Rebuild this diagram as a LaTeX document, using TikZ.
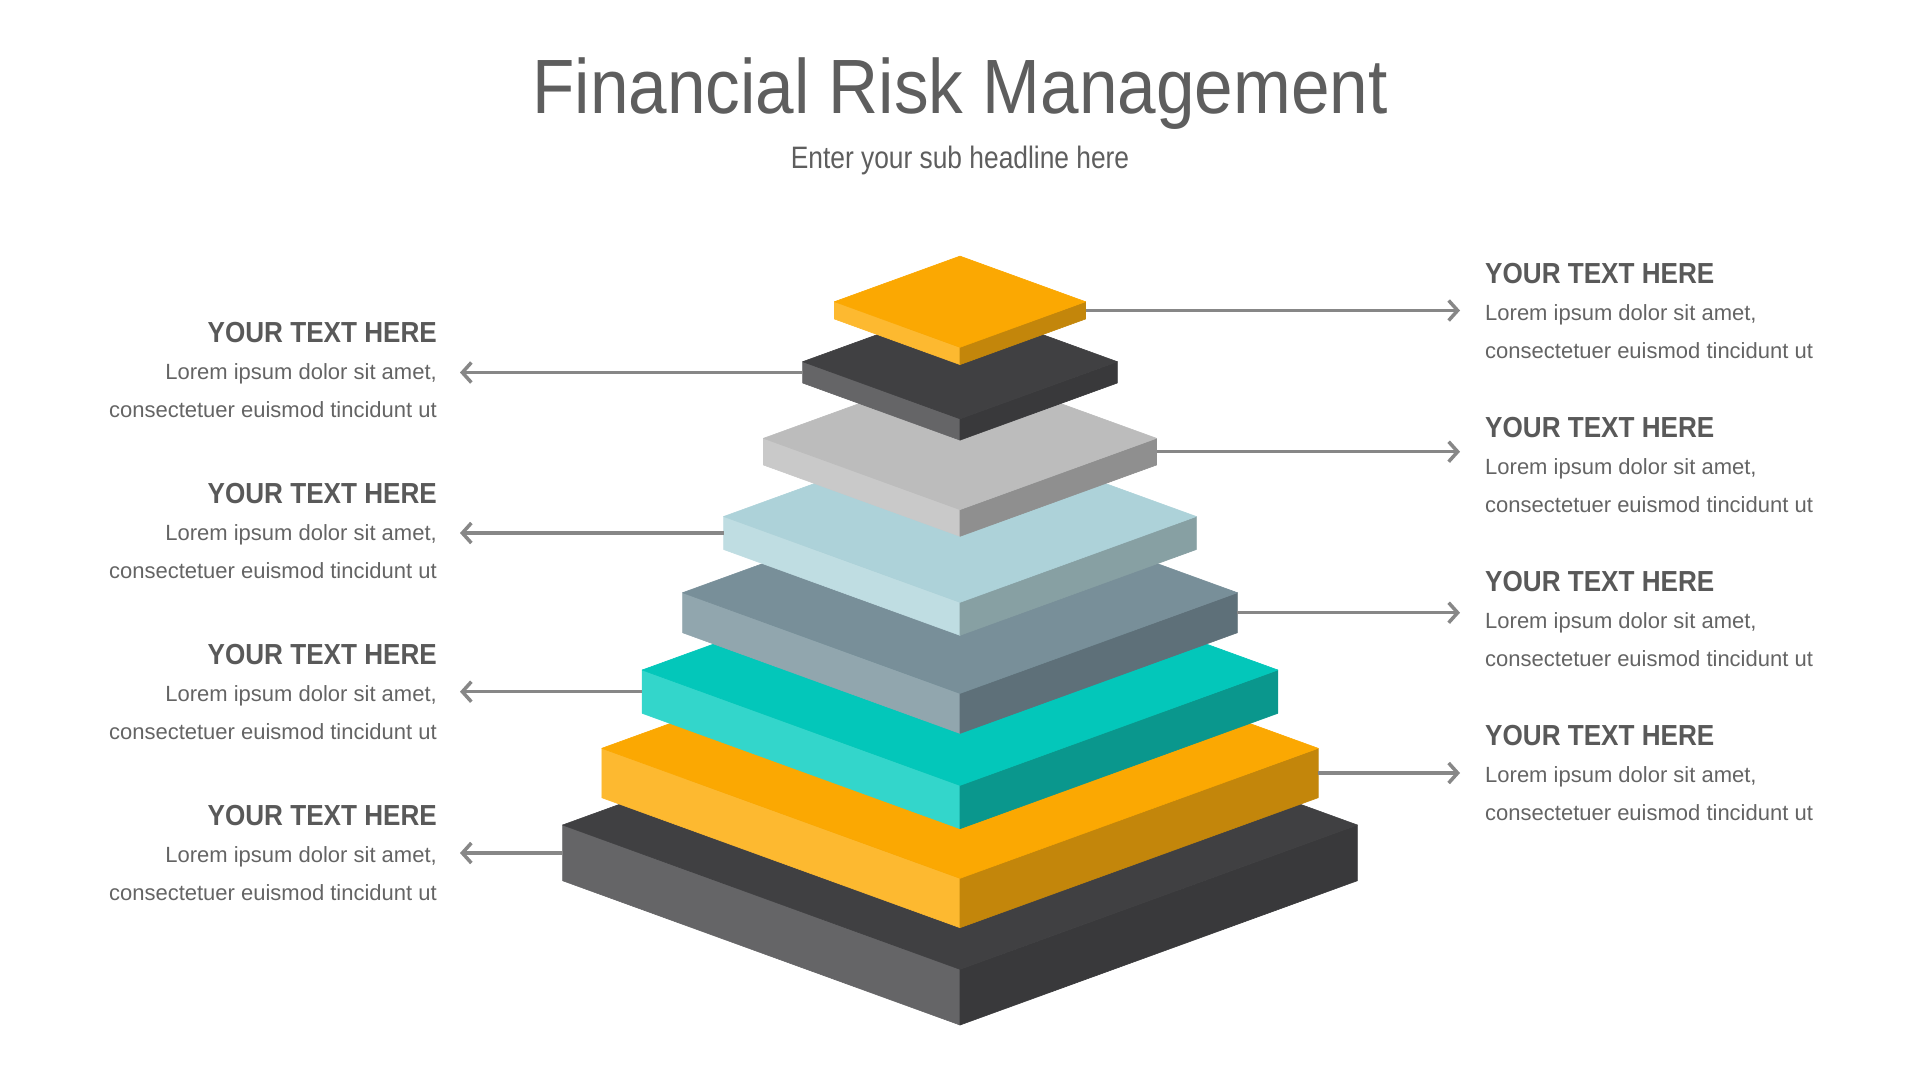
\documentclass[tikz,border=0pt]{standalone}
\usepackage{fontspec}
\setmainfont{Liberation Sans}
\newfontfamily\titlefont{Liberation Sans}[FakeStretch=0.9]
\newfontfamily\subfont{Liberation Sans}[FakeStretch=0.85]
\usetikzlibrary{positioning, arrows.meta}

\definecolor{titlegray}{HTML}{5E5E5E}
\definecolor{headgray}{HTML}{595959}
\definecolor{bodygray}{HTML}{646464}
\definecolor{linkgray}{HTML}{878787}
\definecolor{ambertop}{HTML}{FBA802}
\definecolor{amberleft}{HTML}{FDB930}
\definecolor{amberright}{HTML}{C3860B}
\definecolor{darktop}{HTML}{404042}
\definecolor{darkleft}{HTML}{656567}
\definecolor{darkright}{HTML}{39393B}
\definecolor{greytop}{HTML}{BCBCBC}
\definecolor{greyleft}{HTML}{C9C9C9}
\definecolor{greyright}{HTML}{8F8F8F}
\definecolor{icetop}{HTML}{ADD2D9}
\definecolor{iceleft}{HTML}{BFDDE2}
\definecolor{iceright}{HTML}{87A0A3}
\definecolor{slatetop}{HTML}{788F99}
\definecolor{slateleft}{HTML}{91A6AE}
\definecolor{slateright}{HTML}{5E7079}
\definecolor{tealtop}{HTML}{03C7BA}
\definecolor{tealleft}{HTML}{33D6CB}
\definecolor{tealright}{HTML}{0A978D}

\begin{document}
\begin{tikzpicture}[
    x = 1pt, y = -1pt,
    > = {Straight Barb[length = 9pt, width = 20pt]},
    face/.style = {line width = .6pt, line join = round},
    link/.style = {->, draw = linkgray, line width = 3.5pt},
    head/.style = {font = \titlefont\bfseries\fontsize{29}{29}\selectfont, text = headgray, inner sep = 0pt},
    body/.style = {font = \fontsize{22}{22}\selectfont, text = bodygray, inner sep = 0pt}
]
\useasboundingbox (0,0) rectangle (1920,1080);

% Title
\node[anchor = base, inner sep = 0pt, text = titlegray,
      font = \titlefont\fontsize{77}{77}\selectfont] (title) at (960,113) {Financial Risk Management};
\node[below = 55pt of title.base, anchor = base, inner sep = 0pt, text = titlegray,
      font = \subfont\fontsize{31}{31}\selectfont]   (sub)   {Enter your sub headline here};

% Layers, bottom to top
\filldraw[face, fill = darkleft, draw = darkleft]   (562.6,825) -- (960,969.3) -- (960,1025) -- (562.6,880.7) -- cycle;
\filldraw[face, fill = darkright, draw = darkright] (1357.4,825) -- (960,969.3) -- (960,1025) -- (1357.4,880.7) -- cycle;
\filldraw[face, fill = darktop, draw = darktop]     (960,680.7) -- (1357.4,825) -- (960,969.3) -- (562.6,825) -- cycle;

\filldraw[face, fill = amberleft, draw = amberleft]   (601.8,748.3) -- (960,878.3) -- (960,927.7) -- (601.8,797.7) -- cycle;
\filldraw[face, fill = amberright, draw = amberright] (1318.2,748.3) -- (960,878.3) -- (960,927.7) -- (1318.2,797.7) -- cycle;
\filldraw[face, fill = ambertop, draw = ambertop]     (960,618.3) -- (1318.2,748.3) -- (960,878.3) -- (601.8,748.3) -- cycle;

\filldraw[face, fill = tealleft, draw = tealleft]   (642.2,670) -- (960,785.4) -- (960,828.7) -- (642.2,713.3) -- cycle;
\filldraw[face, fill = tealright, draw = tealright] (1277.8,670) -- (960,785.4) -- (960,828.7) -- (1277.8,713.3) -- cycle;
\filldraw[face, fill = tealtop, draw = tealtop]     (960,554.6) -- (1277.8,670) -- (960,785.4) -- (642.2,670) -- cycle;

\filldraw[face, fill = slateleft, draw = slateleft]   (682.6,592.7) -- (960,693.4) -- (960,733.4) -- (682.6,632.7) -- cycle;
\filldraw[face, fill = slateright, draw = slateright] (1237.4,592.7) -- (960,693.4) -- (960,733.4) -- (1237.4,632.7) -- cycle;
\filldraw[face, fill = slatetop, draw = slatetop]     (960,492) -- (1237.4,592.7) -- (960,693.4) -- (682.6,592.7) -- cycle;

\filldraw[face, fill = iceleft, draw = iceleft]   (723.7,516.5) -- (960,602.3) -- (960,635.3) -- (723.7,549.5) -- cycle;
\filldraw[face, fill = iceright, draw = iceright] (1196.3,516.5) -- (960,602.3) -- (960,635.3) -- (1196.3,549.5) -- cycle;
\filldraw[face, fill = icetop, draw = icetop]     (960,430.7) -- (1196.3,516.5) -- (960,602.3) -- (723.7,516.5) -- cycle;

\filldraw[face, fill = greyleft, draw = greyleft]   (763.5,438.3) -- (960,509.6) -- (960,536.3) -- (763.5,465) -- cycle;
\filldraw[face, fill = greyright, draw = greyright] (1156.5,438.3) -- (960,509.6) -- (960,536.3) -- (1156.5,465) -- cycle;
\filldraw[face, fill = greytop, draw = greytop]     (960,367) -- (1156.5,438.3) -- (960,509.6) -- (763.5,438.3) -- cycle;

\filldraw[face, fill = darkleft, draw = darkleft]   (802.7,361.7) -- (960,418.8) -- (960,440.1) -- (802.7,383) -- cycle;
\filldraw[face, fill = darkright, draw = darkright] (1117.3,361.7) -- (960,418.8) -- (960,440.1) -- (1117.3,383) -- cycle;
\filldraw[face, fill = darktop, draw = darktop]     (960,304.6) -- (1117.3,361.7) -- (960,418.8) -- (802.7,361.7) -- cycle;

\filldraw[face, fill = amberleft, draw = amberleft]   (834.5,301.7) -- (960,347.3) -- (960,364.6) -- (834.5,319) -- cycle;
\filldraw[face, fill = amberright, draw = amberright] (1085.5,301.7) -- (960,347.3) -- (960,364.6) -- (1085.5,319) -- cycle;
\filldraw[face, fill = ambertop, draw = ambertop]     (960,256.1) -- (1085.5,301.7) -- (960,347.3) -- (834.5,301.7) -- cycle;

% Layer edges
\coordinate (s1) at (1085.5,310.5);
\coordinate (s2) at (802.7,372.5);
\coordinate (s3) at (1156.5,451.7);
\coordinate (s4) at (723.7,533);
\coordinate (s5) at (1237.4,612.7);
\coordinate (s6) at (642.2,691.7);
\coordinate (s7) at (1318.2,773);
\coordinate (s8) at (562.6,853);

% Right texts
\node[head, anchor = base west]                            (h1) at (1485,283) {YOUR TEXT HERE};
\node[body, below = 37pt of h1.base west, anchor = base west] (l1) {Lorem ipsum dolor sit amet,};
\node[body, below = 38pt of l1.base west, anchor = base west] (c1) {consectetuer euismod tincidunt ut};
\node[head, below = 79pt of c1.base west, anchor = base west] (h3) {YOUR TEXT HERE};
\node[body, below = 37pt of h3.base west, anchor = base west] (l3) {Lorem ipsum dolor sit amet,};
\node[body, below = 38pt of l3.base west, anchor = base west] (c3) {consectetuer euismod tincidunt ut};
\node[head, below = 79pt of c3.base west, anchor = base west] (h5) {YOUR TEXT HERE};
\node[body, below = 37pt of h5.base west, anchor = base west] (l5) {Lorem ipsum dolor sit amet,};
\node[body, below = 38pt of l5.base west, anchor = base west] (c5) {consectetuer euismod tincidunt ut};
\node[head, below = 79pt of c5.base west, anchor = base west] (h7) {YOUR TEXT HERE};
\node[body, below = 37pt of h7.base west, anchor = base west] (l7) {Lorem ipsum dolor sit amet,};
\node[body, below = 38pt of l7.base west, anchor = base west] (c7) {consectetuer euismod tincidunt ut};

% Left texts
\node[head, anchor = base east]                            (h2) at (437,342) {YOUR TEXT HERE};
\node[body, below = 37pt of h2.base east, anchor = base east] (l2) {Lorem ipsum dolor sit amet,};
\node[body, below = 38pt of l2.base east, anchor = base east] (c2) {consectetuer euismod tincidunt ut};
\node[head, below = 86pt of c2.base east, anchor = base east] (h4) {YOUR TEXT HERE};
\node[body, below = 37pt of h4.base east, anchor = base east] (l4) {Lorem ipsum dolor sit amet,};
\node[body, below = 38pt of l4.base east, anchor = base east] (c4) {consectetuer euismod tincidunt ut};
\node[head, below = 86pt of c4.base east, anchor = base east] (h6) {YOUR TEXT HERE};
\node[body, below = 37pt of h6.base east, anchor = base east] (l6) {Lorem ipsum dolor sit amet,};
\node[body, below = 38pt of l6.base east, anchor = base east] (c6) {consectetuer euismod tincidunt ut};
\node[head, below = 86pt of c6.base east, anchor = base east] (h8) {YOUR TEXT HERE};
\node[body, below = 37pt of h8.base east, anchor = base east] (l8) {Lorem ipsum dolor sit amet,};
\node[body, below = 38pt of l8.base east, anchor = base east] (c8) {consectetuer euismod tincidunt ut};

% Arrows
\coordinate[left = 25pt of h1.base west]  (rtip);
\coordinate[right = 23pt of h2.base east] (ltip);

\draw[link] (s1) -- (s1 -| rtip);
\draw[link] (s3) -- (s3 -| rtip);
\draw[link] (s5) -- (s5 -| rtip);
\draw[link] (s7) -- (s7 -| rtip);
\draw[link] (s2) -- (s2 -| ltip);
\draw[link] (s4) -- (s4 -| ltip);
\draw[link] (s6) -- (s6 -| ltip);
\draw[link] (s8) -- (s8 -| ltip);

\end{tikzpicture}
\end{document}
